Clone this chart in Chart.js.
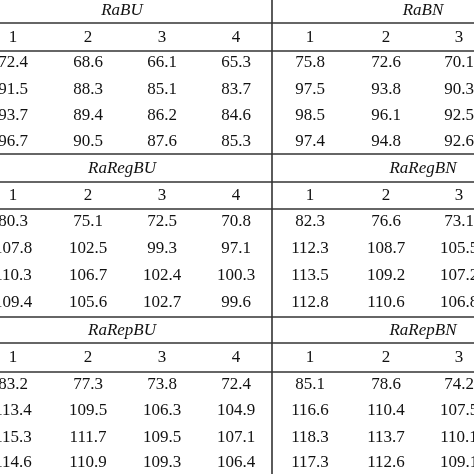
<!DOCTYPE html>
<html>
<head>
<meta charset="utf-8">
<script src="https://cdn.jsdelivr.net/npm/chart.js@4/dist/chart.umd.min.js"></script>
<style>
  html,body{margin:0;padding:0;background:#fff;}
  #wrap{width:474px;height:474px;}
</style>
</head>
<body>
<div id="wrap"><canvas id="tbl"></canvas></div>
<script>
// table content
const methodsLeft = ['RaBU','RaRegBU','RaRepBU'];
const methodsRight = ['RaBN','RaRegBN','RaRepBN'];
const colLabelsLeft = ['1','2','3','4'];
const colLabelsRight = ['1','2','3'];

const raBU = [[72.4,68.6,66.1,65.3],[91.5,88.3,85.1,83.7],[93.7,89.4,86.2,84.6],[96.7,90.5,87.6,85.3]];
const raBN = [[75.8,72.6,70.1],[97.5,93.8,90.3],[98.5,96.1,92.5],[97.4,94.8,92.6]];
const raRegBU = [[80.3,75.1,72.5,70.8],[107.8,102.5,99.3,97.1],[110.3,106.7,102.4,100.3],[109.4,105.6,102.7,99.6]];
const raRegBN = [[82.3,76.6,73.1],[112.3,108.7,105.5],[113.5,109.2,107.2],[112.8,110.6,106.8]];
const raRepBU = [[83.2,77.3,73.8,72.4],[113.4,109.5,106.3,104.9],[115.3,111.7,109.5,107.1],[114.6,110.9,109.3,106.4]];
const raRepBN = [[85.1,78.6,74.2],[116.6,110.4,107.5],[118.3,113.7,110.1],[117.3,112.6,109.1]];

// layout (pixel units of the 474 grid)
const colXLeft = [13,88,162,236];
const colXRight = [310,386,459];
const sections = [
  {title:11, nums:38, rows:[63,90,116,142], lines:[23,51,154]},
  {title:169, nums:196, rows:[222,249,276,303], lines:[182,209,317]},
  {title:331, nums:358, rows:[385,411,438,463], lines:[343,372]}
];
const dividerX = 272;

const leftData = [raBU, raRegBU, raRepBU];
const rightData = [raBN, raRegBN, raRepBN];

const cells = [];
sections.forEach((s,si)=>{
  cells.push({x:122,y:s.title,t:methodsLeft[si],it:true});
  cells.push({x:423,y:s.title,t:methodsRight[si],it:true});
  colLabelsLeft.forEach((c,ci)=>cells.push({x:colXLeft[ci],y:s.nums,t:c}));
  colLabelsRight.forEach((c,ci)=>cells.push({x:colXRight[ci],y:s.nums,t:c}));
  leftData[si].forEach((row,ri)=>row.forEach((v,ci)=>cells.push({x:colXLeft[ci],y:s.rows[ri],t:v.toFixed(1)})));
  rightData[si].forEach((row,ri)=>row.forEach((v,ci)=>cells.push({x:colXRight[ci],y:s.rows[ri],t:v.toFixed(1)})));
});

const tablePlugin = {
  id:'tablePlugin',
  afterDatasetsDraw(chart){
    const {ctx, scales:{x,y}} = chart;
    ctx.save();
    ctx.strokeStyle = '#333';
    ctx.lineWidth = 1.6;
    sections.forEach(s=>s.lines.forEach(ly=>{
      ctx.beginPath();
      ctx.moveTo(x.getPixelForValue(0), y.getPixelForValue(ly));
      ctx.lineTo(x.getPixelForValue(474), y.getPixelForValue(ly));
      ctx.stroke();
    }));
    ctx.beginPath();
    ctx.moveTo(x.getPixelForValue(dividerX), y.getPixelForValue(0));
    ctx.lineTo(x.getPixelForValue(dividerX), y.getPixelForValue(474));
    ctx.stroke();
    ctx.fillStyle = '#111';
    ctx.textAlign = 'center';
    ctx.textBaseline = 'middle';
    const meta = chart.getDatasetMeta(0);
    meta.data.forEach((pt,i)=>{
      const c = cells[i];
      ctx.font = (c.it ? 'italic ' : '') + '17px "Liberation Serif", "DejaVu Serif", serif';
      ctx.fillText(c.t, pt.x, pt.y);
    });
    ctx.restore();
  }
};

new Chart(document.getElementById('tbl'), {
  type:'scatter',
  data:{datasets:[{data:cells.map(c=>({x:c.x,y:c.y})),pointRadius:0,pointHoverRadius:0}]},
  options:{
    responsive:true, maintainAspectRatio:false, animation:false,
    layout:{padding:0},
    plugins:{legend:{display:false},tooltip:{enabled:false}},
    events:[],
    scales:{
      x:{type:'linear',min:0,max:474,display:false},
      y:{type:'linear',min:0,max:474,reverse:true,display:false}
    }
  },
  plugins:[tablePlugin]
});
</script>
</body>
</html>
